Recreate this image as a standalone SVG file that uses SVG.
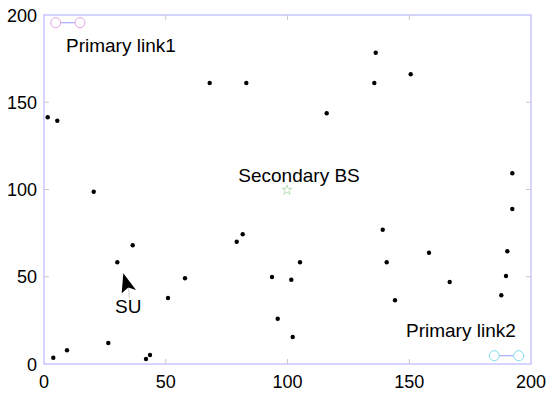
<svg xmlns="http://www.w3.org/2000/svg" width="550" height="397" viewBox="0 0 550 397">
<style>
.lbl{font-family:"Liberation Sans",Arial,sans-serif;font-size:19px;fill:#000}
.tk{font-family:"Liberation Sans",Arial,sans-serif;font-size:18px;fill:#000}
.dot{fill:#000}
.tick{stroke:#c8c8c8;stroke-width:1}
</style>
<rect width="550" height="397" fill="#fff"/>
<g id="axes">
<rect x="44" y="15" width="487" height="349" fill="none" stroke="#aaaaff" stroke-width="1"/>
<g class="tick">
<line x1="165.75" y1="364" x2="165.75" y2="359"/><line x1="287.5" y1="364" x2="287.5" y2="359"/><line x1="409.25" y1="364" x2="409.25" y2="359"/>
<line x1="165.75" y1="15" x2="165.75" y2="20"/><line x1="287.5" y1="15" x2="287.5" y2="20"/><line x1="409.25" y1="15" x2="409.25" y2="20"/>
<line x1="44" y1="102.25" x2="49" y2="102.25"/><line x1="44" y1="189.5" x2="49" y2="189.5"/><line x1="44" y1="276.75" x2="49" y2="276.75"/>
<line x1="531" y1="102.25" x2="526" y2="102.25"/><line x1="531" y1="189.5" x2="526" y2="189.5"/><line x1="531" y1="276.75" x2="526" y2="276.75"/>
</g>
<g class="tk" text-anchor="end">
<text x="37" y="21.5">200</text><text x="37" y="108.8">150</text><text x="37" y="196">100</text><text x="37" y="283.3">50</text><text x="37" y="370.5">0</text>
</g>
<g class="tk" text-anchor="middle">
<text x="44" y="388">0</text><text x="165.75" y="388">50</text><text x="287.5" y="388">100</text><text x="409.25" y="388">150</text><text x="531" y="388">200</text>
</g>
</g>
<g id="connectors">
<line id="link1-line" x1="60.7" y1="22.7" x2="75" y2="22.7" stroke="#aaaaff" stroke-width="1.2"/>
<line id="link2-line" x1="499.3" y1="355.7" x2="513.7" y2="355.7" stroke="#aaaaff" stroke-width="1.2"/>
<line id="su-arrow-line" x1="128.5" y1="287" x2="129.3" y2="298" stroke="#bbbbbb" stroke-width="0.8"/>
<polygon id="su-arrowhead" points="123.3,273.3 136,290 128.3,287.5 121.7,293.3" fill="#000"/>
</g>
<g id="primary-link1">
<circle cx="55.7" cy="22.7" r="5" fill="none" stroke="#e6a0e6" stroke-width="1"/>
<circle cx="80" cy="22.7" r="5" fill="none" stroke="#e6a0e6" stroke-width="1"/>
<text class="lbl" x="66" y="52.3">Primary link1</text>
</g>
<g id="primary-link2">
<circle cx="494.3" cy="355.7" r="5" fill="none" stroke="#80dcee" stroke-width="1"/>
<circle cx="518.7" cy="355.7" r="5" fill="none" stroke="#80dcee" stroke-width="1"/>
<text class="lbl" x="406" y="336.7">Primary link2</text>
</g>
<g id="secondary-bs">
<polygon points="287,184.9 288.2,188.4 291.8,188.4 288.9,190.6 290,194.2 287,192 284,194.2 285.1,190.6 282.2,188.4 285.8,188.4" fill="none" stroke="#a8d8a8" stroke-width="0.8"/>
<text class="lbl" x="238.3" y="182.3">Secondary BS</text>
</g>
<g id="su">
<text class="lbl" x="115" y="313.3">SU</text>
</g>
<g id="users" class="dot">
<circle cx="242.7" cy="234.3" r="2.2"/><circle cx="236.7" cy="241.7" r="2.2"/><circle cx="300" cy="262.3" r="2.2"/>
<circle cx="185" cy="278.3" r="2.2"/><circle cx="272" cy="277" r="2.2"/><circle cx="291.3" cy="279.7" r="2.2"/>
<circle cx="277.7" cy="318.7" r="2.2"/><circle cx="292.7" cy="337" r="2.2"/>
<circle cx="512.3" cy="173.3" r="2.2"/><circle cx="512.3" cy="209" r="2.2"/><circle cx="382.7" cy="229.7" r="2.2"/>
<circle cx="429" cy="252.7" r="2.2"/><circle cx="507.3" cy="251.3" r="2.2"/><circle cx="386.7" cy="262.3" r="2.2"/>
<circle cx="506" cy="276" r="2.2"/><circle cx="449.7" cy="282" r="2.2"/><circle cx="501.3" cy="295.3" r="2.2"/>
<circle cx="395" cy="300.3" r="2.2"/>
<circle cx="93.7" cy="191.7" r="2.2"/><circle cx="117.3" cy="262.3" r="2.2"/>
<circle cx="132.7" cy="245.3" r="2.2"/><circle cx="168" cy="298" r="2.2"/>
<circle cx="53.3" cy="357.7" r="2.2"/><circle cx="67" cy="350.3" r="2.2"/><circle cx="108.3" cy="343" r="2.2"/>
<circle cx="146" cy="359" r="2.2"/><circle cx="150" cy="355" r="2.2"/>
<circle cx="47.7" cy="117.3" r="2.2"/><circle cx="57.3" cy="120.7" r="2.2"/>
<circle cx="209.7" cy="83" r="2.2"/><circle cx="246.3" cy="83" r="2.2"/><circle cx="375.7" cy="52.7" r="2.2"/>
<circle cx="374.3" cy="83" r="2.2"/><circle cx="410.7" cy="74.3" r="2.2"/><circle cx="326.7" cy="113.3" r="2.2"/>
</g>
</svg>
